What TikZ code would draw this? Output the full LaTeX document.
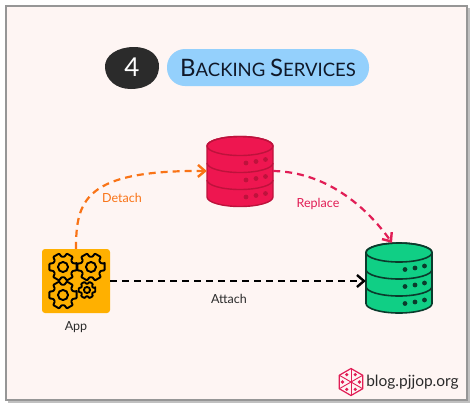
\documentclass[tikz,border=0pt]{standalone}
\usepackage{fontspec}
\setmainfont{Lato}
\usetikzlibrary{arrows.meta}
\definecolor{paper}{HTML}{FEF5F3}
\definecolor{framegray}{HTML}{969696}
\definecolor{ink}{HTML}{2B2B2B}
\definecolor{pill}{HTML}{94D0FC}
\definecolor{titleink}{HTML}{101828}
\definecolor{appfill}{HTML}{FFB000}
\definecolor{orangeline}{HTML}{F97316}
\definecolor{crimson}{HTML}{E11D55}
\definecolor{redfill}{HTML}{EE1650}
\definecolor{redline}{HTML}{BE123C}
\definecolor{greenfill}{HTML}{10CF85}
\definecolor{greenline}{HTML}{0B3B2C}
\tikzset{
  flow/.style={line width=2.2pt,dash pattern=on 7pt off 5pt,-{Straight Barb[length=7pt,width=12pt,line width=2.4pt]}},
  textlabel/.style={font=\fontsize{12.5}{14}\selectfont,inner sep=0pt},
  gearline/.style={draw=black,line width=1.9pt,line join=round,rounded corners=.7pt},
}
\newcommand{\gearicon}[3]{%
  \begin{scope}[shift={(#1,#2)}]
    \draw[gearline] (-14:#3)
      \foreach \a in {0,60,...,300}{
        -- (\a-14:#3) -- (\a+14:#3) -- (\a+22:0.74*#3) -- (\a+38:0.74*#3)
      } -- cycle;
    \draw[black,line width=1.9pt] (0,0) circle[radius=0.36*#3];
  \end{scope}}
% x, y of top ellipse centre, half width, ry, band step, fill, line, line width
\newcommand{\dbicon}[8]{%
  \begin{scope}[shift={(#1,#2)}]
    \filldraw[fill=#6,draw=#7,line width=#8]
      (-#3,0) -- (-#3,{3*#5}) arc[start angle=180,end angle=0,x radius=#3,y radius=#4]
      -- (#3,0) arc[start angle=0,end angle=-180,x radius=#3,y radius=#4] -- cycle;
    \draw[#7,line width=#8] (0,0) ellipse[x radius=#3,y radius=#4];
    \foreach \k in {1,2}{
      \draw[#7,line width=#8] (-#3,{\k*#5}) arc[start angle=180,end angle=0,x radius=#3,y radius=#4];
    }
    \foreach \k in {0,1,2}{
      \fill[#7] (6,{17+\k*#5}) circle[radius=2.4];
      \fill[#7] (16,{15.5+\k*#5}) circle[radius=2.4];
      \fill[#7] (25.5,{13.5+\k*#5}) circle[radius=2.4];
    }
  \end{scope}}
\begin{document}
\begin{tikzpicture}[x=1pt,y=-1pt]
\useasboundingbox (0,0) rectangle (474,408);
\fill[white] (0,0) rectangle (474,408);
\fill[framegray!60] (8,8) rectangle (470,403);
\filldraw[fill=paper,draw=framegray,line width=2pt] (6,6) rectangle (467,400);

% title
\fill[ink] (105,68) .. controls (104,55) and (118,47) .. (134,47)
  .. controls (150,47) and (160,56) .. (159,68)
  .. controls (158,82) and (146,89) .. (131,89)
  .. controls (116,89) and (106,80) .. (105,68) -- cycle;
\node[text=white,font=\fontsize{26}{28}\selectfont,inner sep=0pt] (num) at (132,67) {4};
\node[fill=pill,rounded corners=18pt,minimum width=202pt,minimum height=37pt,inner sep=0pt,
      text=titleink] (title) at (268,67.5)
  {\fontsize{24}{24}\selectfont B\fontsize{18.5}{24}\selectfont ACKING\ \fontsize{24}{24}\selectfont S\fontsize{18.5}{24}\selectfont ERVICES};

% app
\node[fill=appfill,rounded corners=3pt,minimum width=68pt,minimum height=64pt,inner sep=0pt] (app) at (76,281) {};
\gearicon{63}{267}{14}
\gearicon{91}{267}{14}
\gearicon{63}{295}{14}
\gearicon{87}{290}{8.5}
\node[textlabel,text=ink] (apptext) at (76,327) {App};

% databases
\dbicon{240}{146}{33}{9.5}{17}{redfill}{redline}{1.4pt}
\node[minimum width=66pt,minimum height=68pt,inner sep=0pt] (red) at (240,171) {};
\dbicon{399}{252.5}{33}{9.5}{17}{greenfill}{greenline}{1.6pt}
\node[minimum width=66pt,minimum height=69pt,inner sep=0pt] (green) at (399,277.5) {};

% connectors
\draw[flow,orangeline] (app.north) ..  controls (76,200) and (85,170) .. (red.west);
\draw[flow,crimson] (red.east) .. controls (325,172) and (365,205) .. ([xshift=-7pt]green.north);
\draw[flow,black] (app.east) -- ([yshift=-3.5pt]green.west);

\node[textlabel,text=orangeline] (detach) at (122,198) {Detach};
\node[textlabel,text=crimson] (replace) at (318,204) {Replace};
\node[textlabel,text=ink] (attach) at (229,299) {Attach};

% logo
\begin{scope}[shift={(351,382)}]
  \draw[crimson,line width=1.2pt,line join=round] (90:13.5) -- (30:13.5) -- (-30:13.5) -- (-90:13.5) -- (-150:13.5) -- (150:13.5) -- cycle;
  \foreach \a in {30,90,150}{\draw[crimson,line width=.9pt] (\a:13.5) -- (\a+180:13.5);}
  \foreach \a in {0,60,...,300}{\fill[crimson] (\a:8.5) circle[radius=1.8];}
\end{scope}
\node[inner sep=0pt,text=ink,font=\fontsize{15.5}{18}\selectfont] (logo) at (412.5,382) {blog.pjjop.org};
\end{tikzpicture}
\end{document}
